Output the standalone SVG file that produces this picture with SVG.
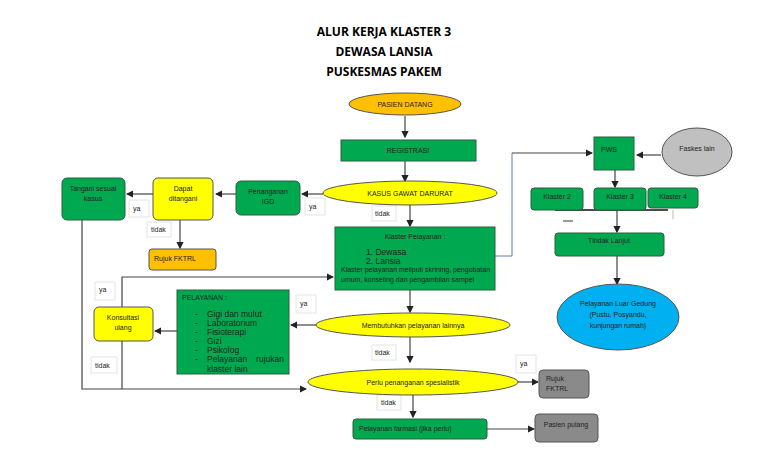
<svg xmlns="http://www.w3.org/2000/svg" width="768" height="466" viewBox="0 0 768 466">
<style>
text{font-family:"Liberation Sans",Arial,sans-serif;font-size:7px;fill:#222}
.t{font-family:"Open Sans","Liberation Sans",sans-serif;font-size:12px;font-weight:bold;fill:#000}
.g{fill:#00A94F;stroke:#2E5E3E;stroke-width:1}
.y{fill:#FFFF00;stroke:#555;stroke-width:1}
.o{fill:#FFC000;stroke:#555;stroke-width:1}
.gr{fill:#8A8A8A;stroke:#555;stroke-width:1}
.c{fill:none;stroke:#444;stroke-width:1.2}
.lb{fill:#fff;stroke:#ddd;stroke-width:0.8}
.li{font-size:8.5px}
</style>
<defs>
<marker id="a" markerWidth="6" markerHeight="6" refX="5" refY="3" orient="auto"><path d="M0,0 L6,3 L0,6z" fill="#222"/></marker>
<clipPath id="pc"><rect x="177" y="290" width="112" height="83"/></clipPath>
</defs>
<rect width="768" height="466" fill="#fff"/>
<text class="t" x="384" y="36" text-anchor="middle">ALUR KERJA KLASTER 3</text>
<text class="t" x="384" y="56" text-anchor="middle">DEWASA LANSIA</text>
<text class="t" x="384" y="76" text-anchor="middle">PUSKESMAS PAKEM</text>

<g id="connectors">
<path class="c" d="M405,116 V137" marker-end="url(#a)"/>
<path class="c" d="M405,161 V181" marker-end="url(#a)"/>
<path class="c" d="M323,194 H302" marker-end="url(#a)"/>
<path class="c" d="M236,194 H216" marker-end="url(#a)"/>
<path class="c" d="M153,194 H127" marker-end="url(#a)"/>
<path class="c" d="M180,220 V248" marker-end="url(#a)"/>
<path class="c" d="M410,205 V226" marker-end="url(#a)"/>
<path d="M495,256 H512 V153" fill="none" stroke="#5B7FB5" stroke-width="1"/>
<path class="c" d="M512,153 H592" marker-end="url(#a)"/>
<path class="c" d="M661,155 H637" marker-end="url(#a)"/>
<path class="c" d="M615,170 V187" marker-end="url(#a)"/>
<path d="M555,210 H668" stroke="#111" stroke-width="1.5"/>
<path d="M563,221 H573" stroke="#333" stroke-width="1"/>
<path d="M673,210 V219" stroke="#bbb" stroke-width="1"/>
<path class="c" d="M617,210 V232" marker-end="url(#a)"/>
<path class="c" d="M617,256 V284" marker-end="url(#a)"/>
<path class="c" d="M410,290 V312" marker-end="url(#a)"/>
<path class="c" d="M316,325 H291" marker-end="url(#a)"/>
<path class="c" d="M177,331 H155" marker-end="url(#a)"/>
<path class="c" d="M122,307 V277 H333" marker-end="url(#a)"/>
<path class="c" d="M122,341 V389"/>
<path class="c" d="M82,220 V389 H306" marker-end="url(#a)"/>
<path class="c" d="M410,337 V362" marker-end="url(#a)"/>
<path class="c" d="M518,382 H538" marker-end="url(#a)"/>
<path class="c" d="M413,395 V417" marker-end="url(#a)"/>
<path class="c" d="M487,429 H534" marker-end="url(#a)"/>
</g>

<g id="labels">
<rect class="lb" x="129" y="200" width="20" height="17"/><text x="133" y="211">ya</text>
<rect class="lb" x="305" y="198" width="20" height="17"/><text x="309" y="209">ya</text>
<rect class="lb" x="372" y="206" width="24" height="15"/><text x="375" y="216">tidak</text>
<rect class="lb" x="147" y="222" width="24" height="15"/><text x="151" y="232">tidak</text>
<rect class="lb" x="95" y="282" width="20" height="18"/><text x="99" y="292">ya</text>
<rect class="lb" x="296" y="295" width="20" height="18"/><text x="300" y="306">ya</text>
<rect class="lb" x="91" y="357" width="26" height="16"/><text x="95" y="368">tidak</text>
<rect class="lb" x="372" y="345" width="24" height="15"/><text x="375" y="355">tidak</text>
<rect class="lb" x="516" y="355" width="20" height="18"/><text x="520" y="366">ya</text>
<rect class="lb" x="377" y="395" width="24" height="15"/><text x="381" y="405">tidak</text>
</g>

<g id="pasien-datang"><ellipse class="o" cx="405" cy="104" rx="56" ry="11"/><text x="405" y="107" text-anchor="middle">PASIEN DATANG</text></g>
<g id="registrasi"><rect class="g" x="341" y="140" width="135" height="21"/><text x="408" y="153" text-anchor="middle">REGISTRASI</text></g>
<g id="kgd"><ellipse class="y" cx="410" cy="193" rx="87" ry="12"/><text x="410" y="196" text-anchor="middle">KASUS GAWAT DARURAT</text></g>
<g id="igd"><rect class="g" x="236" y="181" width="64" height="34" rx="5"/><text x="268" y="194" text-anchor="middle">Penanganan</text><text x="268" y="204" text-anchor="middle">IGD</text></g>
<g id="dapat"><rect class="y" x="153" y="178" width="60" height="42" rx="5"/><text x="183" y="191" text-anchor="middle">Dapat</text><text x="183" y="201" text-anchor="middle">ditangani</text></g>
<g id="tangani"><rect class="g" x="62" y="178" width="63" height="42" rx="5"/><text x="93" y="191" text-anchor="middle">Tangani sesuai</text><text x="93" y="201" text-anchor="middle">kasus</text></g>
<g id="rujuk1"><rect class="o" x="149" y="249" width="67" height="21" rx="3"/><text x="154" y="261">Rujuk FKTRL</text></g>
<g id="klaster"><rect class="g" x="335" y="227" width="160" height="63"/>
<text x="415" y="239" text-anchor="middle">Klaster Pelayanan :</text>
<text class="li" x="366" y="255">1.   Dewasa</text><text class="li" x="366" y="264">2.   Lansia</text>
<text x="341" y="272">Klaster pelayanan meliputi skrining, pengobatan</text>
<text x="341" y="282">umum, konseling dan pengambilan sampel</text></g>
<g id="pws"><rect class="g" x="594" y="137" width="40" height="33"/><text x="601" y="152">PWS</text></g>
<g id="faskes"><ellipse cx="697" cy="152" rx="35" ry="24" fill="#C0C0C0" stroke="#555"/><text x="697" y="151" text-anchor="middle">Faskes lain</text></g>
<g id="k2"><rect class="g" x="531" y="188" width="52" height="22" rx="3"/><text x="557" y="199" text-anchor="middle">Klaster 2</text></g>
<g id="k3"><rect class="g" x="594" y="188" width="52" height="22" rx="3"/><text x="620" y="199" text-anchor="middle">Klaster 3</text></g>
<g id="k4"><rect class="g" x="648" y="188" width="50" height="20" rx="3"/><text x="673" y="199" text-anchor="middle">Klaster 4</text></g>
<g id="tindak"><rect class="g" x="555" y="233" width="109" height="23" rx="3"/><text x="609" y="243" text-anchor="middle">Tindak Lanjut</text></g>
<g id="luar"><ellipse cx="618" cy="317" rx="61" ry="33" fill="#00B0F0" stroke="#555"/><text x="618" y="306" text-anchor="middle">Pelayanan Luar Gedung</text><text x="618" y="317" text-anchor="middle">(Pustu, Posyandu,</text><text x="618" y="328" text-anchor="middle">kunjungan rumah)</text></g>
<g id="membutuhkan"><ellipse class="y" cx="413" cy="325" rx="97" ry="12"/><text x="413" y="328" text-anchor="middle">Membutuhkan pelayanan lainnya</text></g>
<g id="pelayanan"><rect class="g" x="177" y="290" width="112" height="84"/>
<g clip-path="url(#pc)">
<text x="182" y="300">PELAYANAN :</text>
<g class="li"><text class="li" x="195" y="317">-</text><text class="li" x="207" y="317">Gigi dan mulut</text>
<text class="li" x="195" y="326">-</text><text class="li" x="207" y="326">Laboratorium</text>
<text class="li" x="195" y="335">-</text><text class="li" x="207" y="335">Fisioterapi</text>
<text class="li" x="195" y="344">-</text><text class="li" x="207" y="344">Gizi</text>
<text class="li" x="195" y="353">-</text><text class="li" x="207" y="353">Psikolog</text>
<text class="li" x="195" y="362">-</text><text class="li" x="207" y="362">Pelayanan</text><text class="li" x="284" y="362" text-anchor="end">rujukan</text>
<text class="li" x="207" y="372">klaster lain</text></g></g></g>
<g id="konsultasi"><rect class="y" x="94" y="307" width="59" height="34" rx="5"/><text x="123" y="320" text-anchor="middle">Konsultasi</text><text x="123" y="330" text-anchor="middle">ulang</text></g>
<g id="perlu"><ellipse class="y" cx="413" cy="382" rx="105" ry="13"/><text x="413" y="385" text-anchor="middle">Perlu penanganan spesialistik</text></g>
<g id="rujuk2"><rect class="gr" x="539" y="370" width="50" height="28" rx="4"/><text x="546" y="381">Rujuk</text><text x="546" y="391">FKTRL</text></g>
<g id="farmasi"><rect class="g" x="353" y="419" width="134" height="20" rx="3"/><text x="359" y="431">Pelayanan farmasi (jika perlu)</text></g>
<g id="pulang"><rect class="gr" x="535" y="414" width="63" height="28" rx="4"/><text x="566" y="427" text-anchor="middle">Pasien pulang</text></g>
</svg>
